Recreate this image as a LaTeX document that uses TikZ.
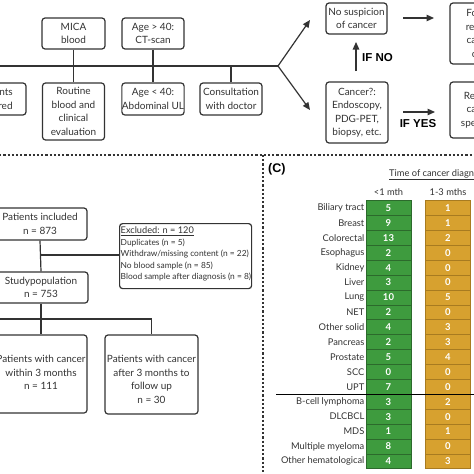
\documentclass[tikz,border=0pt]{standalone}
\usepackage{fontspec}
\setmainfont{Lato}
\newfontfamily\headfont{Liberation Sans}
\usetikzlibrary{arrows.meta}
\definecolor{lc}{HTML}{333333}
\definecolor{cg}{HTML}{3E9B3E}
\definecolor{cgd}{HTML}{2C6A2C}
\definecolor{co}{HTML}{D7A12F}
\definecolor{cod}{HTML}{A87B20}
\begin{document}
\begin{tikzpicture}[x=1pt,y=-1pt,
  box/.style={draw=lc, line width=1.2pt, rounded corners=3pt, align=center, inner sep=0pt, text=lc, font=\fontsize{10}{13.5}\selectfont},
  conn/.style={draw=lc, line width=1.2pt},
  arr/.style={conn, -{Triangle[length=7.5pt,width=6.5pt]}},
  dotline/.style={draw=lc, line width=1.1pt, dash pattern=on 2.2pt off 2pt},
  iflab/.style={font=\headfont\bfseries\fontsize{11.5}{13}\selectfont, text=black, inner sep=0pt},
  txt/.style={text=lc, inner sep=0pt, align=center, font=\fontsize{10}{13.5}\selectfont},
  small/.style={text=lc, inner sep=0pt, anchor=west, font=\fontsize{8.4}{10}\selectfont},
  lab/.style={text=lc, inner sep=0pt, anchor=east, font=\fontsize{9.3}{11}\selectfont},
  gcell/.style={fill=cg, draw=cgd, line width=0.6pt, minimum width=45pt, minimum height=14.9pt, inner sep=0pt, text=white, font=\bfseries\fontsize{9.5}{11}\selectfont},
  ocell/.style={gcell, fill=co, draw=cod}
]
\useasboundingbox[fill=white] (0,0) rectangle (474,474);

% ---------- top part ----------
\node[box, minimum width=62pt, minimum height=32pt] (pref) at (-5,99) {Patients\\referred};
\node[box, minimum width=63pt, minimum height=31pt] (mica) at (73.5,33.5) {MICA\\blood};
\node[box, minimum width=62pt, minimum height=31pt] (ageh) at (153,33.5) {Age > 40:\\CT-scan};
\node[box, minimum width=62pt, minimum height=57pt] (rout) at (73.5,111.5) {Routine\\blood and\\clinical\\evaluation};
\node[box, minimum width=62pt, minimum height=32pt] (agel) at (153,99) {Age < 40:\\Abdominal UL};
\node[box, minimum width=62pt, minimum height=32pt] (cons) at (231,99) {Consultation\\with doctor};
\node[box, minimum width=61pt, minimum height=31pt] (nosu) at (356.5,18.5) {No suspicion\\of cancer};
\node[box, minimum width=62pt, minimum height=61pt] (canc) at (357,112.5) {Cancer?:\\Endoscopy,\\PDG-PET,\\biopsy, etc.};
\node[box, minimum width=62pt, minimum height=61pt] (foll) at (481,33.5) {Follow\\regular\\cancer\\care};
\node[box, minimum width=62pt, minimum height=56pt] (refe) at (481,110) {Referral\\cancer\\specialist};

\coordinate (hl) at (-20,66);
\coordinate (jn) at (278,66);
\draw[conn] (hl) -- (jn);
\draw[conn] (mica.south) -- (rout.north);
\draw[conn] (ageh.south) -- (agel.north);
\draw[conn] (cons.north) -- (cons.north |- jn);
\draw[conn] (pref.north) -- (pref.north |- jn);
\coordinate (tipu) at (310,20);
\coordinate (tipd) at (310,110);
\draw[arr] (jn) -- (tipu);
\draw[arr] (jn) -- (tipd);
\coordinate (nob) at (356,71);
\coordinate (not) at (356,42);
\draw[arr] (nob) -- (not);
\node[iflab, anchor=west] (ifno) at (362,58) {IF NO};
\coordinate (r1s) at (403,18);
\coordinate (r1e) at (434,18);
\draw[arr] (r1s) -- (r1e);
\coordinate (r2s) at (403,112);
\coordinate (r2e) at (435,112);
\draw[arr] (r2s) -- (r2e);
\node[iflab] (ifyes) at (418,124) {IF YES};

% ---------- separators ----------
\coordinate (dl) at (-5,155);
\coordinate (dr) at (480,155);
\coordinate (dv) at (263,155);
\coordinate (dvb) at (263,480);
\draw[dotline] (dl) -- (dr);
\draw[dotline] (dv) -- (dvb);

% ---------- lower left ----------
\node[box, minimum width=94pt, minimum height=32pt] (pinc) at (40,224) {Patients included\\n = 873};
\node[box, minimum width=94pt, minimum height=31pt] (stud) at (41,287.5) {Studypopulation\\n = 753};
\node[box, minimum width=132pt, minimum height=65pt, anchor=north west] (excl) at (119,223) {};
\node[small, font=\fontsize{9.2}{11}\selectfont] (ext) at (120.5,231) {\underline{Excluded: n = 120}};
\node[small] (ex1) at (120.5,243) {Duplicates (n = 5)};
\node[small] (ex2) at (120.5,254.5) {Withdraw/missing content (n = 22)};
\node[small] (ex3) at (120.5,266) {No blood sample (n = 85)};
\node[small] (ex4) at (120.5,277.5) {Blood sample after diagnosis (n = 8)};
\node[box, minimum width=92pt, minimum height=78pt] (with) at (41,374) {};
\node[box, minimum width=93pt, minimum height=79pt] (aftr) at (151.5,374.5) {};
\node[txt, anchor=north] (witht) at (41,355) {Patients with cancer\\within 3 months\\n = 111};
\node[txt, anchor=north] (aftrt) at (151.5,355) {Patients with cancer\\after 3 months to\\follow up\\n = 30};

\coordinate (bx) at (41,255);
\draw[conn] (pinc.south) -- (stud.north);
\draw[conn] (bx) -- (excl.west |- bx);
\coordinate (br) at (41,319);
\coordinate (brl) at (-20,319);
\draw[conn] (stud.south) -- (br);
\draw[conn] (brl) -- (aftr.north |- br) -- (aftr.north);
\draw[conn] (br) -- (with.north);

% ---------- table (C) ----------
\node[iflab, anchor=west, font=\headfont\bfseries\fontsize{12.5}{14}\selectfont] (clab) at (268,169) {(C)};
\node[lab, anchor=west] (time) at (389,175) {\underline{Time of cancer diagnosis}};
\node[lab, anchor=center] (h1) at (388.5,192) {<1 mth};
\node[lab, anchor=center] (h2) at (448,192) {1-3 mths};
\foreach \lab/\g/\o [count=\i from 0] in {Biliary tract/5/1, Breast/9/1, Colorectal/13/2, Esophagus/2/0, Kidney/4/0, Liver/3/0, Lung/10/5, NET/2/0, Other solid/4/3, Pancreas/2/3, Prostate/5/4, SCC/0/0, UPT/7/0, B-cell lymphoma/3/2, DLCBCL/3/0, MDS/1/1, Multiple myeloma/8/0, Other hematological/4/3} {
  \pgfmathsetmacro\yy{208+14.9*\i}
  \node[lab] (l\i) at (364.5,\yy) {\lab};
  \node[gcell] (g\i) at (388.5,\yy) {\g};
  \node[ocell] (o\i) at (448,\yy) {\o};
}
\coordinate (sl) at (276,394.7);
\coordinate (sr) at (480,394.7);
\draw[conn, line width=0.9pt, draw=black] (sl) -- (sr);
\end{tikzpicture}
\end{document}
